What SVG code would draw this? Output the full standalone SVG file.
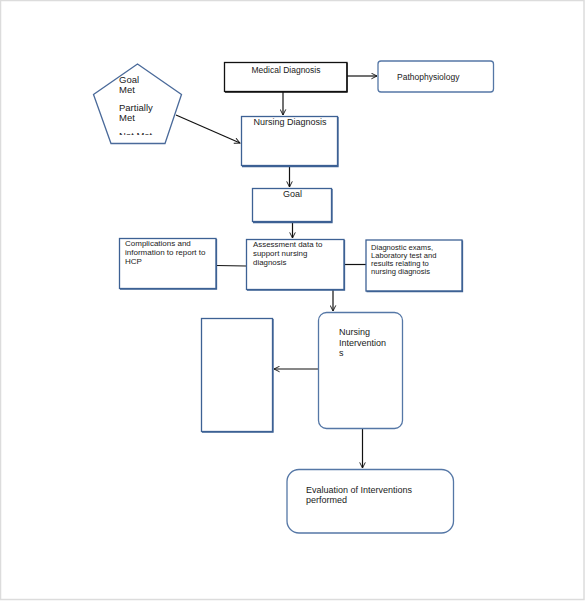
<svg xmlns="http://www.w3.org/2000/svg" width="585" height="601" viewBox="0 0 585 601">
<defs>
<style>
.t{font-family:"Liberation Sans",Arial,sans-serif;fill:#1a1a1a}
.b{fill:#fff;stroke:#3d6194;stroke-width:1.3}
.sh{fill:none;stroke:#3d6194;stroke-width:1.3}
.r{fill:#fff;stroke:#5577a6;stroke-width:1.3}
.c{fill:none;stroke:#111;stroke-width:1.2}
</style>
<marker id="a" viewBox="0 0 10 10" refX="9" refY="5" markerWidth="7" markerHeight="7" orient="auto" markerUnits="userSpaceOnUse">
<path d="M1,1 L9,5 L1,9" fill="none" stroke="#111" stroke-width="1.3"/>
</marker>
<clipPath id="pc"><rect x="90" y="60" width="100" height="75"/></clipPath>
</defs>
<rect x="0.5" y="0.5" width="583.5" height="599" fill="#fff" stroke="#dcdcdc" stroke-width="1.5"/>

<g id="connectors">
<line class="c" x1="347" y1="76" x2="377" y2="76" marker-end="url(#a)"/>
<line class="c" x1="283" y1="92" x2="283" y2="115" marker-end="url(#a)"/>
<line class="c" x1="176" y1="115" x2="240" y2="143" marker-end="url(#a)"/>
<line class="c" x1="289.5" y1="166" x2="289.5" y2="187" marker-end="url(#a)"/>
<line class="c" x1="292.5" y1="222" x2="292.5" y2="238" marker-end="url(#a)"/>
<line class="c" x1="216" y1="265.5" x2="246" y2="266"/>
<line class="c" x1="345" y1="264.5" x2="366" y2="264.5"/>
<line class="c" x1="333" y1="290" x2="333" y2="311" marker-end="url(#a)"/>
<line class="c" x1="318" y1="369" x2="274" y2="369" marker-end="url(#a)"/>
<line class="c" x1="362.5" y1="429" x2="362.5" y2="468" marker-end="url(#a)"/>
</g>

<g id="outcome">
<polygon points="137.5,64 181.5,94.5 165,143.5 111,143.5 93.5,94.5" fill="#fff" stroke="#4a6a9a" stroke-width="1.3"/>
<g clip-path="url(#pc)">
<text class="t" font-size="9.5" x="119" y="83">Goal</text>
<text class="t" font-size="9.5" x="119" y="92.5">Met</text>
<text class="t" font-size="9.5" x="119" y="111">Partially</text>
<text class="t" font-size="9.5" x="119" y="120.5">Met</text>
<text class="t" font-size="9.5" x="119" y="139">Not Met</text>
</g>
</g>

<g id="medical">
<rect x="224.5" y="62.5" width="122.5" height="29" fill="#fff" stroke="#111" stroke-width="1.3"/>
<path d="M347,63 V92 H225" fill="none" stroke="#111" stroke-width="1.3"/>
<text class="t" font-size="8.5" x="286" y="72.5" text-anchor="middle">Medical Diagnosis</text>
</g>

<g id="patho">
<rect class="r" x="378" y="61" width="115.5" height="31" rx="3"/>
<text class="t" font-size="8.5" x="397" y="79.5">Pathophysiology</text>
</g>

<g id="nursingdx">
<rect class="b" x="241.5" y="116.5" width="96" height="49"/>
<path class="sh" d="M338,117 V166.5 H242"/>
<text class="t" font-size="9" x="290" y="125" text-anchor="middle">Nursing Diagnosis</text>
</g>

<g id="goal">
<rect class="b" x="252.5" y="188.5" width="79" height="33"/>
<path class="sh" d="M332,189 V222.5 H253"/>
<text class="t" font-size="9" x="292.5" y="197" text-anchor="middle">Goal</text>
</g>

<g id="complications">
<rect class="b" x="119.5" y="238.5" width="96.5" height="50"/>
<path class="sh" d="M216.5,239 V289 H120"/>
<text class="t" font-size="8" x="125" y="246">Complications and</text>
<text class="t" font-size="8" x="125" y="255">information to report to</text>
<text class="t" font-size="8" x="125" y="264">HCP</text>
</g>

<g id="assessment">
<rect class="b" x="246.5" y="239.5" width="97.5" height="50"/>
<path class="sh" d="M344.5,240 V290 H247"/>
<text class="t" font-size="7.9" x="253" y="247">Assessment data to</text>
<text class="t" font-size="7.9" x="253" y="256">support nursing</text>
<text class="t" font-size="7.9" x="253" y="265">diagnosis</text>
</g>

<g id="diagnostic">
<rect class="b" x="366" y="240" width="96" height="51"/>
<path class="sh" d="M462.5,240.5 V291.5 H366.5"/>
<text class="t" font-size="7.6" x="371" y="249.5">Diagnostic exams,</text>
<text class="t" font-size="7.6" x="371" y="257.5"> Laboratory test and</text>
<text class="t" font-size="7.6" x="371" y="266">results relating to</text>
<text class="t" font-size="7.6" x="371" y="274">nursing diagnosis</text>
</g>

<g id="blank">
<rect class="b" x="201.5" y="318.5" width="71" height="113"/>
<path class="sh" d="M273,319 V432 H202"/>
</g>

<g id="interventions">
<rect class="r" x="318.5" y="312.5" width="84" height="116" rx="8"/>
<text class="t" font-size="9" x="339" y="335">Nursing</text>
<text class="t" font-size="9" x="339" y="345.5">Intervention</text>
<text class="t" font-size="9" x="339" y="356">s</text>
</g>

<g id="evaluation">
<rect class="r" x="287" y="469.5" width="166.5" height="63.5" rx="12"/>
<text class="t" font-size="9" x="306" y="493">Evaluation of Interventions</text>
<text class="t" font-size="9" x="306" y="503">performed</text>
</g>
</svg>
